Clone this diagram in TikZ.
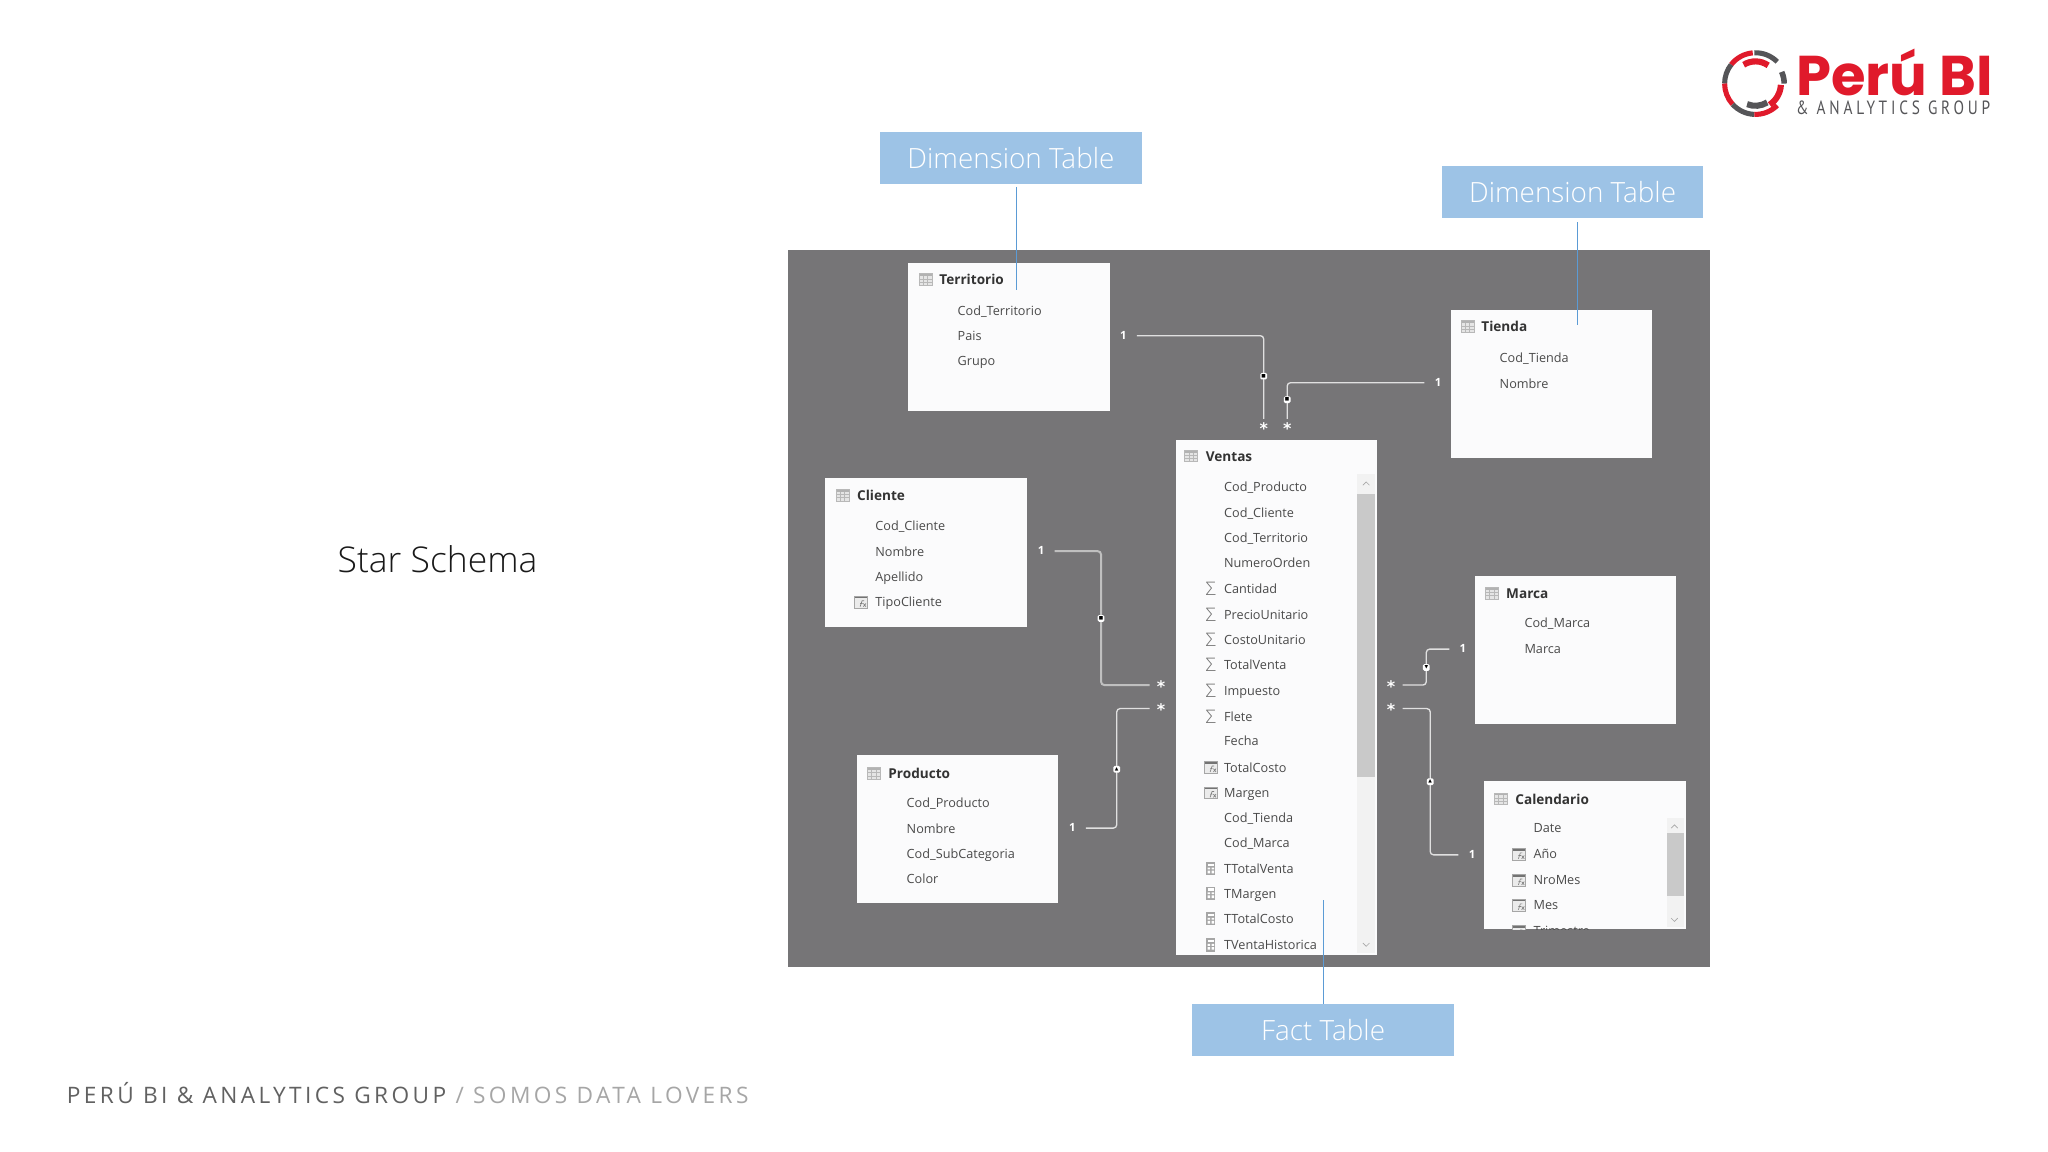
\documentclass[tikz,border=0pt]{standalone}
\usepackage{fontspec}
\setmainfont{Open Sans}
\newfontfamily\lightf{Open Sans Light}
\newfontfamily\logof{Poppins}[UprightFont=*-Bold]
\newfontfamily\logosm{PT Sans}
\newfontfamily\dejav{DejaVu Sans}
\definecolor{panel}{HTML}{767577}
\definecolor{card}{HTML}{FBFBFC}
\definecolor{tagblue}{HTML}{9DC3E6}
\definecolor{tagline}{HTML}{5B9BD5}
\definecolor{rowtxt}{HTML}{4A4A4A}
\definecolor{logored}{HTML}{E01A2B}
\definecolor{logogray}{HTML}{555558}
\tikzset{
  x=0.97959pt,y=-0.97959pt,
  card/.style={fill=card,draw=none},
  tag/.style={fill=tagblue,draw=none,text=white,minimum width=196pt,minimum height=38.5pt,inner sep=0pt,font=\lightf\fontsize{20.9}{24}\selectfont},
  tagrule/.style={draw=tagline,line width=0.8pt},
  ttl/.style={anchor=west,inner sep=0pt,text=black!80,font=\bfseries\fontsize{10.2}{12}\selectfont,text height=10.5pt,text depth=2.5pt},
  fld/.style={anchor=west,inner sep=0pt,text=rowtxt,font=\fontsize{9.5}{11}\selectfont,text height=9pt,text depth=2pt},
  sig/.style={inner sep=0pt,text=black!55,font=\lightf\fontsize{14}{14}\selectfont},
  one/.style={inner sep=0pt,minimum width=20pt,minimum height=8pt,text=white,font=\bfseries\fontsize{8.5}{9}\selectfont},
  stars/.style={inner sep=0pt,minimum width=17pt,minimum height=12pt,text=white,text height=0pt,text depth=0pt,font=\dejav\bfseries\fontsize{12}{12}\selectfont},
  rel/.style={draw=black!12,line width=1pt,rounded corners=2.5pt},
  relb/.style={draw=black!25,line width=1.5pt,rounded corners=2.5pt},
  mk/.style={fill=white,inner sep=0pt,minimum size=5pt,rounded corners=1pt,font=\dejav\fontsize{3.5}{4}\selectfont},
  tableicon/.pic={
    \fill[black!10] (-5,-4.5) rectangle (5,4.5);
    \fill[black!30] (-5,-4.5) rectangle (5,-2.5);
    \draw[black!28,line width=0.4pt] (-5,-4.5) rectangle (5,4.5) (-5,-.5)--(5,-.5) (-5,2)--(5,2) (-1.7,-2.5)--(-1.7,4.5) (1.7,-2.5)--(1.7,4.5);
  },
  fxicon/.pic={
    \fill[black!8] (-5,-4.5) rectangle (5,4.5);
    \fill[black!55] (-5,-4.5) rectangle (5,-2.8);
    \draw[black!35,line width=0.4pt] (-5,-4.5) rectangle (5,4.5);
    \draw[black!50,line width=0.5pt] (-.5,3.5)--(1,-1)--(2.5,-1) (-.5,1)--(1.5,1) (2,1)--(4,3.5) (4,1)--(2,3.5);
  },
  calcicon/.pic={
    \fill[black!35] (-3.5,-5) rectangle (3.5,5);
    \fill[white] (-2.5,-3.8) rectangle (2.5,-2);
    \fill[white] (-2.5,-.8) rectangle (-.6,.6) (.6,-.8) rectangle (2.5,.6) (-2.5,1.6) rectangle (-.6,3.6) (.6,1.6) rectangle (2.5,3.6);
  },
}
\begin{document}
\begin{tikzpicture}
\useasboundingbox (0,0) rectangle (1568,882);
\fill[white] (0,0) rectangle (1568,882);

% text
\node[anchor=center,inner sep=0pt,font=\lightf\fontsize{26.6}{30}\selectfont,text=black!90] (title) at (335,428) {Star Schema};
\node[anchor=west,inner sep=0pt,font=\fontsize{17}{20}\selectfont\addfontfeature{LetterSpace=15}] (foot) at (51,837) {\textcolor{black!62}{PERÚ BI \& ANALYTICS GROUP} \textcolor{black!35}{/ SOMOS DATA LOVERS}};

% panel
\fill[panel] (603,191.5) rectangle (1309,740);

% tables
\fill[card] (695.5,201.5) rectangle (850,315);
\fill[card] (1111,237) rectangle (1265,350.5);
\fill[card] (632,366) rectangle (786,480);
\fill[card] (900,336.5) rectangle (1054,731);
\fill[card] (1129.5,441) rectangle (1283.5,554);
\fill[card] (656,578) rectangle (810,691.5);
\fill[card] (1136.5,598) rectangle (1290.5,711.5);

% Territorio
\pic at (708.5,214) {tableicon};
\node[ttl] (territorio) at (719,214) {Territorio};
\node[fld] (t1) at (733,238) {Cod\_Territorio};
\node[fld] (t2) at (733,257.5) {Pais};
\node[fld] (t3) at (733,276.5) {Grupo};

% Tienda
\pic at (1123.5,250) {tableicon};
\node[ttl] (tienda) at (1134,250) {Tienda};
\node[fld] (ti1) at (1148,274) {Cod\_Tienda};
\node[fld] (ti2) at (1148,294) {Nombre};

% Cliente
\pic at (645,379) {tableicon};
\node[ttl] (cliente) at (656,379) {Cliente};
\node[fld] (c1) at (670,402.5) {Cod\_Cliente};
\node[fld] (c2) at (670,422.5) {Nombre};
\node[fld] (c3) at (670,442) {Apellido};
\pic at (659,461) {fxicon};
\node[fld] (c4) at (670,461) {TipoCliente};

% Marca
\pic at (1142,454) {tableicon};
\node[ttl] (marca) at (1153,454) {Marca};
\node[fld] (m1) at (1167,477) {Cod\_Marca};
\node[fld] (m2) at (1167,497) {Marca};

% Producto
\pic at (669,592) {tableicon};
\node[ttl] (producto) at (680,592) {Producto};
\node[fld] (p1) at (694,614.5) {Cod\_Producto};
\node[fld] (p2) at (694,634.5) {Nombre};
\node[fld] (p3) at (694,654) {Cod\_SubCategoria};
\node[fld] (p4) at (694,673) {Color};

% Ventas
\pic at (912,349) {tableicon};
\node[ttl] (ventas) at (923,349) {Ventas};
\fill[black!5] (1039,363) rectangle (1052.5,730);
\fill[black!21] (1039,378) rectangle (1052.5,595);
\draw[black!35,line width=0.5pt] (1043.5,371.5)--(1046,369)--(1048.5,371.5) (1043.5,722)--(1046,724.5)--(1048.5,722);
\foreach \txt/\yy [count=\i] in {Cod\_Producto/372.5,Cod\_Cliente/392.5,Cod\_Territorio/412,NumeroOrden/431,Cantidad/451,PrecioUnitario/470.5,CostoUnitario/489.5,TotalVenta/509,Impuesto/529,Flete/548.5,Fecha/567.5,TotalCosto/587.5,Margen/607,Cod\_Tienda/626,Cod\_Marca/645.5,TTotalVenta/665,TMargen/684,TTotalCosto/703.5,TVentaHistorica/723.5}
  \node[fld] (v\i) at (937,\yy) {\txt};
\foreach \yy [count=\i] in {451,470.5,489.5,509,529,548.5}
  \node[sig] (sg\i) at (927,\yy) {Σ};
\foreach \yy in {587.5,607} \pic at (927,\yy) {fxicon};
\foreach \yy in {665,684,703.5,723.5} \pic at (927,\yy) {calcicon};

% Calendario
\pic at (1149,611.5) {tableicon};
\node[ttl] (calendario) at (1160,611.5) {Calendario};
\fill[black!5] (1276,626) rectangle (1289.5,710);
\fill[black!21] (1276,638) rectangle (1289.5,686);
\draw[black!35,line width=0.5pt] (1279.5,634)--(1282,631.5)--(1284.5,634) (1279.5,703)--(1282,705.5)--(1284.5,703);
\node[fld] (k1) at (1174,634) {Date};
\node[fld] (k2) at (1174,654) {Año};
\node[fld] (k3) at (1174,674) {NroMes};
\node[fld] (k4) at (1174,693) {Mes};
\pic at (1163,654) {fxicon};
\pic at (1163,674) {fxicon};
\pic at (1163,693) {fxicon};
\begin{scope}
  \clip (1136.5,598) rectangle (1276,711.5);
  \pic at (1163,713) {fxicon};
  \node[fld] (k5) at (1174,713) {Trimestre};
\end{scope}

% relationship ends
\node[one] (oT) at (860,257) {\raisebox{0.6pt}{1}};
\node[one] (oN) at (1101,293) {\raisebox{0.6pt}{1}};
\node[one] (oC) at (797,422) {\raisebox{0.6pt}{1}};
\node[one] (oP) at (821,634) {\raisebox{0.6pt}{1}};
\node[one] (oM) at (1120,497) {\raisebox{0.6pt}{1}};
\node[one] (oK) at (1127,654.5) {\raisebox{0.6pt}{1}};
\node[stars] (sT) at (967.5,327) {\smash{\raisebox{-5.5pt}{*}}};
\node[stars] (sN) at (985.5,327) {\smash{\raisebox{-5.5pt}{*}}};
\node[stars] (sC) at (889,524.5) {\smash{\raisebox{-5.5pt}{*}}};
\node[stars] (sP) at (889,542.5) {\smash{\raisebox{-5.5pt}{*}}};
\node[stars] (sM) at (1065,524.5) {\smash{\raisebox{-5.5pt}{*}}};
\node[stars] (sK) at (1065,542.5) {\smash{\raisebox{-5.5pt}{*}}};

% relationship lines with their filter markers on top
\coordinate (lT) at (967.5,288);
\coordinate (lN) at (985.5,306);
\coordinate (lC) at (843,473.5);
\coordinate (lP) at (855,589);
\coordinate (lM) at (1092,511);
\coordinate (lK) at (1095,598.5);
\draw[rel] (oT.east) -| (lT) -- (sT.north);
\draw[rel] (oN.west) -| (lN) -- (sN.north);
\draw[relb] (oC.east) -| (lC) |- (sC.west);
\draw[rel] (oP.east) -| (lP) |- (sP.west);
\draw[rel] (sM.east) -| (lM) |- (oM.west);
\draw[rel] (sK.east) -| (lK) |- (oK.west);
\node[mk] (mT) at (lT) {\textcolor{black}{■}};
\node[mk] (mN) at (lN) {\textcolor{black}{■}};
\node[mk] (mC) at (lC) {\textcolor{black}{■}};
\node[mk] (mP) at (lP) {\textcolor{black}{▲}};
\node[mk] (mM) at (lM) {\textcolor{black}{▼}};
\node[mk] (mK) at (lK) {\textcolor{black}{▲}};

% callouts
\node[tag] (dimA) at (774,121) {\raisebox{-1pt}{Dimension Table}};
\node[tag] (dimB) at (1204,147) {\raisebox{-1pt}{Dimension Table}};
\node[tag] (fact) at (1013,788.5) {\raisebox{-1pt}{Fact Table}};
\coordinate (dimAs) at (778,143);
\coordinate (dimAe) at (778,222);
\coordinate (dimBs) at (1207.5,170);
\coordinate (dimBe) at (1207.5,249);
\coordinate (factE) at (1013,689);
\draw[tagrule] (dimAs) -- (dimAe);
\draw[tagrule] (dimBs) -- (dimBe);
\draw[tagrule] (fact.north) -- (factE);

% logo
\begin{scope}[shift={(1344,64)},yscale=-1]
  \foreach \aa/\bb/\rr/\ww/\cc in {45/92/23.6/3.8/logogray,95/142/23.6/3.8/logored,142/180/23.6/3.8/logogray,180/222/23.6/3.8/logored,222/268/23.6/3.8/logogray,268/315/23.6/3.8/logored,55/122/17/4.6/logored,0/24/22/4.2/logogray,-56/-3/19.5/4.6/logored,-112/-58/17/4.6/logogray}
    \draw[draw=\cc,line width=\ww pt] (\aa:\rr) arc[start angle=\aa,end angle=\bb,radius=\rr];
\end{scope}
\node[anchor=base west,inner sep=0pt,text=logored,font=\logof\fontsize{42}{44}\selectfont] (perubi) at (1375,73) {Perú BI};
\node[anchor=base west,inner sep=0pt,text=logogray,font=\logosm\fontsize{11.5}{14}\selectfont\addfontfeature{LetterSpace=25}] (group) at (1375,88) {\scalebox{1}[1.25]{\& ANALYTICS GROUP}};
\end{tikzpicture}
\end{document}
